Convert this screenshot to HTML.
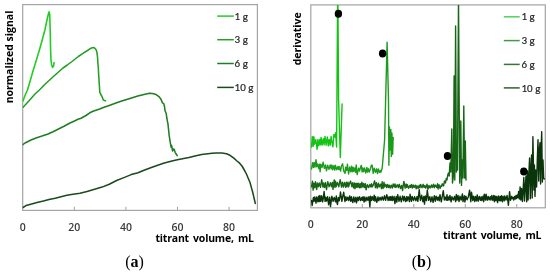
<!DOCTYPE html>
<html><head><meta charset="utf-8"><title>Titration figure</title>
<style>
html,body{margin:0;padding:0;background:#fff;width:550px;height:273px;overflow:hidden}
svg{display:block}
.ax{font-family:"Open Sans","Liberation Sans",sans-serif;font-size:10.5px;font-weight:600;fill:#3a3a3a;text-anchor:middle}
.ti{font-family:"Open Sans","Liberation Sans",sans-serif;font-size:10.5px;font-weight:bold;fill:#000;text-anchor:middle}
.tw{letter-spacing:-0.2px;word-spacing:1.6px}
.lg{font-family:"Carlito","Liberation Sans",sans-serif;font-size:11px;fill:#262626;stroke:#262626;stroke-width:0.2px}
.cap{font-family:"Liberation Serif",serif;font-size:16px;fill:#000;text-anchor:middle}
</style></head><body>
<svg width="550" height="273" viewBox="0 0 550 273">
<defs><clipPath id="cl"><rect x="22.5" y="4.5" width="235" height="205.7"/></clipPath><clipPath id="cr"><rect x="310.8" y="4.9" width="234.5" height="202.8"/></clipPath></defs>
<rect x="22.7" y="4.6" width="234.7" height="205.8" fill="none" stroke="#a4a4a4" stroke-width="1.2"/>
<rect x="310.8" y="4.9" width="234.5" height="202.9" fill="none" stroke="#a4a4a4" stroke-width="1.2"/>
<line x1="74.3" y1="206.8" x2="74.3" y2="210.4" stroke="#a0a0a0" stroke-width="1"/>
<line x1="125.9" y1="206.8" x2="125.9" y2="210.4" stroke="#a0a0a0" stroke-width="1"/>
<line x1="177.5" y1="206.8" x2="177.5" y2="210.4" stroke="#a0a0a0" stroke-width="1"/>
<line x1="229.1" y1="206.8" x2="229.1" y2="210.4" stroke="#a0a0a0" stroke-width="1"/>
<line x1="362.3" y1="204" x2="362.3" y2="207.7" stroke="#a0a0a0" stroke-width="1"/>
<line x1="413.8" y1="204" x2="413.8" y2="207.7" stroke="#a0a0a0" stroke-width="1"/>
<line x1="465.3" y1="204" x2="465.3" y2="207.7" stroke="#a0a0a0" stroke-width="1"/>
<line x1="516.8" y1="204" x2="516.8" y2="207.7" stroke="#a0a0a0" stroke-width="1"/>
<g clip-path="url(#cl)">
<polyline points="23.0,207.5 26.0,205.6 31.7,204.0 37.0,202.5 43.4,201.1 49.0,199.6 55.2,198.2 61.0,196.7 66.9,195.3 73.0,194.2 80.0,193.2 87.0,191.5 94.6,189.3 102.0,187.1 109.3,184.2 116.6,180.5 123.9,177.6 131.2,174.6 138.0,172.8 144.0,170.2 150.7,167.7 157.0,165.5 163.5,163.3 170.0,161.6 176.2,160.1 182.5,158.8 188.9,157.5 195.0,156.0 201.6,154.4 208.0,153.7 212.0,153.3 216.4,153.0 222.0,153.1 226.5,153.7 230.0,155.3 233.8,158.1 237.0,161.0 239.6,163.2 242.0,166.0 244.0,169.5 246.2,173.5 248.4,178.8 250.0,182.5 251.4,187.6 252.5,191.5 253.5,195.6 254.5,200.0 255.3,203.4" fill="none" stroke="#1a4a1e" stroke-width="1.55" stroke-linejoin="round" stroke-linecap="round" />
<polyline points="22.6,144.8 25.0,143.0 31.0,140.0 36.0,138.0 42.0,136.1 48.0,134.0 53.0,131.7 58.0,129.2 64.0,126.2 70.0,123.0 75.0,120.7 78.0,119.3 81.0,118.2 86.0,115.5 89.8,112.8 93.0,111.2 99.7,109.0 104.0,107.3 108.5,105.7 116.0,103.0 119.5,101.8 125.0,100.0 130.0,98.5 137.8,96.1 144.0,94.4 149.3,93.2 152.5,93.4 156.1,94.6 159.3,96.9 161.2,99.7 162.5,102.9 163.9,103.8 164.6,107.0 164.9,110.0 165.4,111.6 166.3,114.0 166.8,118.0 168.0,124.2 168.6,130.0 169.1,135.0 170.3,142.6 171.1,147.2 171.6,145.5 172.6,151.0 173.4,149.0 174.2,149.5 175.2,152.6 176.2,154.0 177.2,155.7" fill="none" stroke="#1f7d22" stroke-width="1.55" stroke-linejoin="round" stroke-linecap="round" />
<polyline points="23.1,107.2 27.0,103.0 31.5,98.0 35.0,94.0 39.4,90.0 44.0,85.2 49.3,80.3 54.0,76.0 59.6,71.0 63.0,68.0 67.3,65.0 72.0,61.5 78.3,56.5 83.0,53.3 87.5,50.5 91.0,48.2 93.0,47.5 94.6,48.0 95.7,49.2 96.6,51.0 97.1,53.7 97.6,58.0 97.9,63.0 98.3,68.0 98.7,75.0 99.0,79.6 99.4,86.0 99.8,92.1 100.8,94.5 102.0,96.5 103.4,100.1 104.5,100.4 105.6,100.9" fill="none" stroke="#22a022" stroke-width="1.55" stroke-linejoin="round" stroke-linecap="round" />
<polyline points="23.0,101.0 25.2,95.0 27.5,90.0 30.4,80.0 33.3,70.0 36.4,60.0 39.4,50.0 42.2,40.0 44.9,30.0 47.0,20.0 48.5,13.5 49.1,11.9 49.7,14.5 50.2,30.0 50.6,50.0 51.0,60.0 51.6,65.0 52.5,67.3 53.4,66.5 53.9,64.0 54.1,62.5" fill="none" stroke="#22cc22" stroke-width="1.6" stroke-linejoin="round" stroke-linecap="round" />
</g>
<g clip-path="url(#cr)">
<polyline points="311.5,200.4 312.2,205.5 313.4,197.5 314.1,201.2 314.8,197.0 316.0,203.1 316.7,197.0 317.9,201.9 318.6,196.2 319.3,201.5 319.9,195.4 320.7,201.3 321.7,195.8 322.6,201.9 323.5,197.0 324.1,191.5 325.1,201.4 325.8,197.3 326.5,201.0 327.6,196.8 328.6,204.7 329.7,197.2 330.5,206.6 331.8,196.3 333.1,201.3 334.2,197.4 335.5,201.9 336.3,196.0 336.9,202.6 337.5,204.5 338.3,197.4 339.2,200.8 339.9,196.8 340.5,192.0 341.9,201.3 342.7,196.4 343.7,192.3 344.9,201.5 345.9,196.6 346.6,200.4 347.8,197.2 348.8,200.6 349.7,196.0 350.8,201.3 351.5,196.8 352.8,202.6 353.8,196.9 354.8,201.9 355.9,197.1 356.5,202.9 357.8,197.2 358.5,200.5 359.6,196.7 360.6,200.5 361.8,197.4 362.4,200.3 363.1,196.6 364.1,202.1 364.8,196.9 365.9,201.1 366.9,197.1 367.9,200.2 368.9,196.6 369.9,207.0 370.5,196.2 371.3,200.5 372.2,196.8 373.3,200.3 374.2,195.2 374.9,201.1 375.6,196.6 376.8,202.3 378.0,197.0 378.8,200.7 380.1,197.3 381.1,200.2 382.2,196.8 383.4,200.2 384.5,195.6 385.6,200.3 386.8,194.7 388.1,200.6 389.1,196.7 389.9,200.3 390.6,196.7 391.3,200.4 392.2,196.3 392.8,200.6 394.1,196.5 394.9,203.6 396.1,196.6 396.8,202.1 397.7,194.7 399.0,201.3 400.1,196.3 401.3,201.8 402.6,195.9 403.7,200.9 404.4,196.4 405.7,201.5 406.6,196.8 407.1,200.9 408.1,196.6 409.4,201.6 410.1,194.3 411.4,201.3 412.2,196.4 413.5,200.5 414.6,196.7 415.9,200.7 417.1,196.5 417.8,201.3 418.5,196.9 419.2,189.7 420.4,200.5 421.7,195.3 422.9,201.7 423.8,196.5 424.5,204.1 425.3,196.0 426.4,200.6 427.3,190.1 428.6,200.3 429.8,196.6 430.8,201.8 432.0,196.8 433.1,202.4 434.3,195.8 435.3,201.2 436.1,196.1 437.4,200.2 438.1,196.9 439.2,200.8 440.0,194.7 441.3,201.8 442.4,195.5 443.3,190.7 444.3,200.0 445.1,196.9 446.3,200.3 447.0,194.8 447.6,200.2 448.6,196.9 449.2,200.0 449.9,195.4 451.1,201.8 451.9,196.8 453.3,200.0 454.5,196.5 455.6,201.6 456.3,194.5 457.1,200.1 458.0,195.4 459.0,201.5 460.0,196.1 461.2,200.0 462.4,194.0 463.0,201.6 464.3,195.8 464.9,202.0 465.9,196.3 467.1,199.8 468.4,196.5 469.6,190.1 470.8,201.8 471.5,192.2 472.8,200.6 473.5,196.2 474.8,201.5 475.4,196.4 476.5,200.9 477.2,194.9 478.2,201.2 479.3,196.5 480.4,200.4 481.2,196.8 481.9,200.5 483.0,196.1 483.7,201.7 484.3,194.1 485.5,200.0 486.1,194.1 487.2,200.2 488.2,196.5 489.1,199.9 490.2,196.7 490.9,200.1 491.8,195.4 492.8,200.4 493.8,195.4 494.4,201.7 495.0,196.0 495.8,200.6 496.5,196.4 497.6,202.6 498.3,196.0 499.3,200.7 500.0,196.5 500.7,200.8 501.4,195.8 502.4,201.7 503.0,196.1 504.2,200.8 504.8,195.9 506.0,200.0 507.1,195.5 508.4,205.2 509.6,191.6 510.5,200.4 511.8,196.3 512.2,198.5 513.0,197.5 513.7,200.0 514.5,196.5 515.3,199.0 516.0,195.5 516.7,198.5 517.3,195.0 518.0,197.5 518.6,191.5 519.3,199.0 520.1,187.0 520.8,200.0 521.6,188.5 522.4,201.5 523.1,190.0 523.8,177.5 524.5,201.0 525.3,186.0 526.0,176.0 526.7,201.8 527.4,170.9 528.1,200.0 528.8,175.0 529.6,158.0 530.3,198.8 531.0,168.0 531.6,155.0 532.2,198.0 532.9,136.8 533.9,190.0 534.4,165.0 535.0,196.6 535.7,170.0 536.6,187.0 537.3,160.0 538.0,139.7 538.7,181.0 539.4,150.0 540.0,142.7 540.6,184.0 541.1,150.0 541.7,131.6 542.4,182.0 543.0,160.0 543.6,178.0 544.3,179.0" fill="none" stroke="#0a350a" stroke-width="1.4" stroke-linejoin="round" stroke-linecap="round" />
<polyline points="311.5,186.9 312.5,181.1 313.1,190.1 313.9,183.1 314.8,187.7 315.5,181.6 316.7,189.5 317.4,183.0 318.4,186.7 319.3,183.0 320.5,187.4 321.7,179.7 323.0,187.1 323.7,182.9 324.6,187.5 325.5,182.5 326.5,189.6 327.8,181.7 329.1,186.9 330.4,182.7 331.4,186.7 332.4,182.5 333.0,189.4 334.2,179.9 334.9,187.2 335.5,181.1 336.1,186.8 337.4,182.4 338.8,186.8 339.4,183.3 340.2,179.6 341.5,187.1 342.4,182.2 343.4,187.0 344.5,182.4 345.6,187.2 346.4,182.3 346.9,186.9 348.0,182.1 348.6,186.9 349.5,183.6 350.6,181.1 351.9,186.7 352.7,182.7 353.6,187.9 354.4,183.0 355.0,188.7 355.7,183.4 356.5,187.2 357.1,183.1 358.0,187.4 358.7,183.2 359.7,187.8 360.4,183.6 361.1,187.6 361.9,182.2 362.9,187.1 363.7,183.5 364.5,187.5 365.4,183.6 366.1,189.8 367.4,184.6 368.7,187.6 369.9,184.4 370.9,187.1 371.5,183.8 372.3,186.9 373.4,184.6 374.6,180.8 375.4,187.7 376.4,182.7 377.2,188.2 378.4,183.1 379.2,187.1 380.4,184.2 381.5,188.6 382.1,181.8 383.1,188.5 384.0,182.1 384.6,187.0 385.9,184.3 386.7,187.6 387.7,184.5 388.5,187.5 389.5,185.2 390.2,188.0 391.3,185.2 392.3,188.0 393.2,183.9 394.3,187.1 395.0,184.0 395.9,187.5 397.2,184.7 398.3,187.5 399.2,184.3 400.5,188.5 401.6,185.5 402.6,190.5 403.2,185.3 403.9,181.4 405.1,188.2 406.1,184.0 406.7,187.5 407.4,184.6 408.6,188.2 409.8,185.5 410.6,187.4 411.4,184.4 412.3,188.0 413.2,185.0 414.1,187.4 415.3,185.2 416.2,188.8 416.9,185.7 418.1,188.4 419.2,185.2 419.9,187.8 420.7,184.5 422.0,187.8 423.2,184.3 424.0,187.4 424.8,185.6 425.7,188.2 427.0,184.2 428.0,189.3 429.0,185.4 430.1,188.0 431.4,185.0 432.2,187.6 433.5,184.2 434.2,187.7 435.3,185.1 436.6,187.5 437.5,183.8 438.1,189.0 439.0,184.8 440.1,188.3 441.0,185.8 441.5,186.5 442.3,183.8 443.5,186.0 444.5,181.0 445.5,183.0 446.2,178.5 447.0,180.0 447.7,175.0 448.5,173.0 449.2,176.0 450.0,163.0 450.8,172.0 451.8,129.0 452.5,183.0 453.4,176.0 454.1,76.0 454.8,180.0 455.6,26.0 456.4,172.0 457.0,150.0 457.5,170.0 458.5,-2.0 459.7,183.0 460.3,165.0 460.8,121.0 461.5,185.4 462.3,160.0 462.9,178.0 463.8,106.0 464.6,178.0 465.3,141.0 466.0,180.0" fill="none" stroke="#166616" stroke-width="1.4" stroke-linejoin="round" stroke-linecap="round" />
<polyline points="311.5,169.0 312.6,162.6 313.4,167.5 314.1,162.5 315.0,167.1 316.0,159.7 316.8,166.9 317.6,164.0 318.8,168.5 319.4,164.1 320.1,171.8 320.8,164.2 322.0,167.6 323.1,162.1 324.4,168.4 325.6,165.0 326.5,170.9 327.7,165.3 329.0,169.4 330.2,165.0 331.2,168.8 331.9,164.9 332.7,169.7 333.8,165.7 334.7,170.1 335.4,165.2 336.7,169.7 337.9,166.5 338.6,169.6 339.3,166.7 340.6,171.1 341.3,166.3 342.6,163.8 343.7,171.0 345.0,173.5 345.6,167.2 346.7,170.5 347.4,164.1 348.6,174.0 349.7,167.0 350.8,171.8 351.6,166.3 352.4,171.7 353.1,167.1 353.9,171.4 354.7,168.0 355.6,172.4 356.2,164.9 357.2,174.6 358.6,168.1 359.5,171.0 360.7,166.7 361.4,165.4 362.1,171.9 362.8,167.9 363.6,171.7 364.5,168.0 365.7,173.1 366.9,167.4 367.5,172.1 368.4,168.7 369.3,172.1 370.6,168.2 371.4,165.1 372.2,165.5 373.2,173.4 374.2,168.3 375.5,172.4 376.6,168.8 377.5,173.6 378.4,169.0 379.6,172.6 380.5,170.5 381.0,172.0 382.2,168.0 384.6,140.0 387.1,42.2 388.5,100.0 388.9,165.3 389.4,127.0 390.2,150.0 390.8,129.5 391.3,156.5 391.9,133.0 392.6,154.3 393.2,137.5" fill="none" stroke="#1c9c1c" stroke-width="1.4" stroke-linejoin="round" stroke-linecap="round" />
<polyline points="311.5,147.0 312.3,136.6 313.2,146.4 313.8,136.6 314.7,144.2 315.8,139.7 317.1,149.3 317.9,139.5 318.8,145.7 319.8,139.5 320.5,144.7 321.1,137.4 322.1,145.1 323.3,138.7 324.1,144.8 325.0,136.4 326.1,145.2 327.3,137.0 328.3,145.8 329.2,139.4 330.2,145.2 331.1,136.5 332.3,144.5 332.9,146.8 333.9,134.4 335.0,137.0 335.6,132.6 336.6,147.0 337.6,-2.0 337.9,-2.0 338.6,100.0 340.3,157.6 342.1,104.0" fill="none" stroke="#14c414" stroke-width="1.4" stroke-linejoin="round" stroke-linecap="round" />
</g>
<ellipse cx="338.4" cy="13.7" rx="3.7" ry="4.0" fill="#000"/>
<ellipse cx="382.6" cy="53.6" rx="3.7" ry="4.0" fill="#000"/>
<ellipse cx="447.5" cy="156.1" rx="3.7" ry="4.0" fill="#000"/>
<ellipse cx="523.8" cy="171.4" rx="3.7" ry="4.0" fill="#000"/>
<line x1="217.2" y1="16.1" x2="233.8" y2="16.1" stroke="#22cc22" stroke-width="1.5"/>
<text x="234.6" y="19.7" class="lg">1 g</text>
<line x1="217.2" y1="39.7" x2="233.8" y2="39.7" stroke="#22a022" stroke-width="1.5"/>
<text x="234.6" y="43.3" class="lg">3 g</text>
<line x1="217.2" y1="63.5" x2="233.8" y2="63.5" stroke="#1f7d22" stroke-width="1.5"/>
<text x="234.6" y="67.1" class="lg">6 g</text>
<line x1="217.2" y1="87.4" x2="233.8" y2="87.4" stroke="#1a4a1e" stroke-width="1.5"/>
<text x="234.6" y="91.0" class="lg">10 g</text>
<line x1="503.8" y1="16.8" x2="519.7" y2="16.8" stroke="#4fd35a" stroke-width="1.5"/>
<text x="521.5" y="20.4" class="lg">1 g</text>
<line x1="503.8" y1="40.6" x2="519.7" y2="40.6" stroke="#3a9e46" stroke-width="1.5"/>
<text x="521.5" y="44.2" class="lg">3 g</text>
<line x1="503.8" y1="64.4" x2="519.7" y2="64.4" stroke="#2e7a32" stroke-width="1.5"/>
<text x="521.5" y="68.0" class="lg">6 g</text>
<line x1="503.8" y1="87.9" x2="519.7" y2="87.9" stroke="#365a3a" stroke-width="1.5"/>
<text x="521.5" y="91.5" class="lg">10 g</text>
<text x="22.7" y="231" class="ax">0</text>
<text x="310.8" y="228" class="ax">0</text>
<text x="74.3" y="231" class="ax">20</text>
<text x="362.3" y="228" class="ax">20</text>
<text x="125.9" y="231" class="ax">40</text>
<text x="413.8" y="228" class="ax">40</text>
<text x="177.5" y="231" class="ax">60</text>
<text x="465.3" y="228" class="ax">60</text>
<text x="229.1" y="231" class="ax">80</text>
<text x="516.8" y="228" class="ax">80</text>
<text x="204.6" y="241.5" class="ti tw">titrant volume, mL</text>
<text x="492.2" y="239" class="ti tw">titrant volume, mL</text>
<text transform="translate(13.2,57) rotate(-90)" class="ti">normalized signal</text>
<text transform="translate(301.3,38.8) rotate(-90)" class="ti">derivative</text>
<text x="134.5" y="266.8" class="cap">(<tspan font-weight="bold">a</tspan>)</text>
<text x="421.5" y="266.8" class="cap">(<tspan font-weight="bold">b</tspan>)</text>
</svg>
</body></html>
